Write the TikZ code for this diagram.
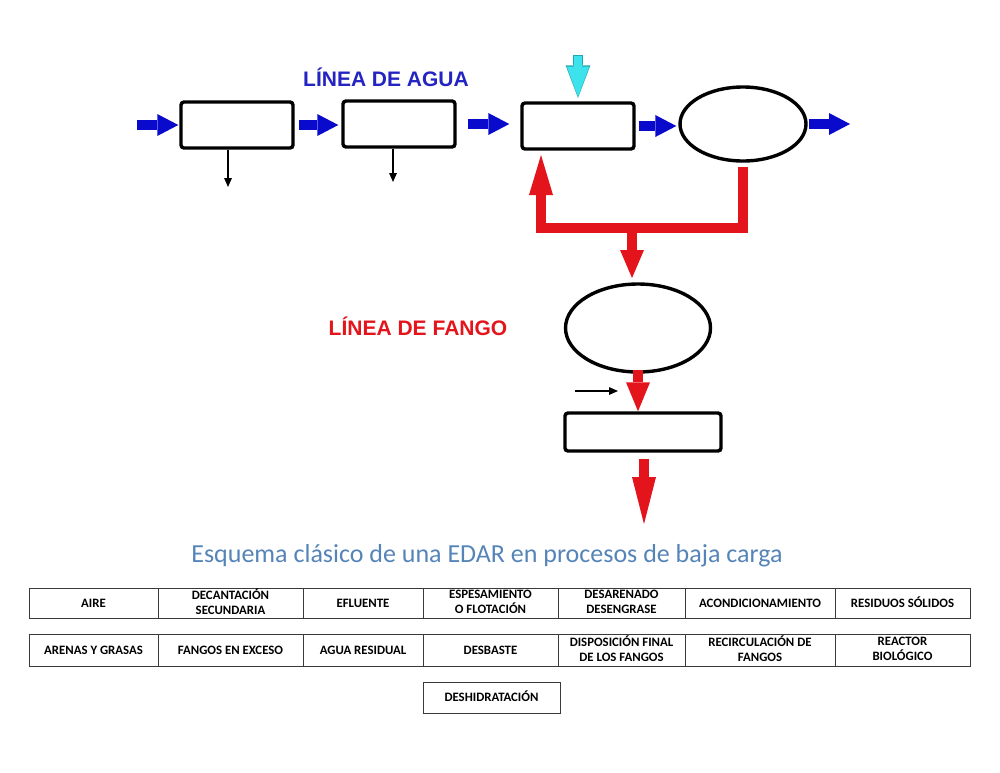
\documentclass[tikz,border=0pt]{standalone}
\usepackage{fontspec}
\setmainfont{Carlito}
\newfontfamily\headfont{Liberation Sans}
\usetikzlibrary{arrows.meta,shapes.geometric}
\definecolor{arrblue}{HTML}{0A0ACD}
\definecolor{headblue}{HTML}{2424C2}
\definecolor{fred}{HTML}{E3141B}
\definecolor{acyan}{HTML}{3DE3EC}
\definecolor{cyanedge}{HTML}{1FA8B0}
\definecolor{titleblue}{HTML}{5584B8}
\definecolor{gridgray}{HTML}{3A3A3A}
\begin{document}
\begin{tikzpicture}[x=0.5pt,y=-0.5pt,
  stagebox/.style={draw, line width=1.7pt, rounded corners=1.5pt, inner sep=0pt, fill=white},
  stageoval/.style={draw, ellipse, line width=1.7pt, inner sep=0pt, fill=white},
  bluearr/.style={draw=arrblue, line width=4.6pt, -{Triangle[length=10.5pt,width=11pt,line width=0pt]}},
  redarr/.style={draw=fred, line width=5pt, -{Triangle[length=#1,width=12pt,line width=0pt]}},
  cyanedgearr/.style={draw=cyanedge, line width=4.6pt, -{Triangle[length=16.3pt,width=12.4pt,line width=0pt]}},
  cyanarr/.style={draw=acyan, line width=3.8pt, -{Triangle[length=15pt,width=11.2pt,line width=0pt]}},
  thinarr/.style={draw=black, line width=0.6pt, -{Triangle[length=4.5pt,width=3.8pt]}},
  heading/.style={font=\headfont\bfseries\fontsize{10.5}{12}\selectfont, inner sep=0pt, anchor=base},
  cell/.style={draw=gridgray, line width=0.5pt, inner sep=0pt, align=center,
    font=\bfseries\fontsize{6.4}{7.6}\selectfont,
    execute at begin node={\rule{0pt}{0.86em}}, execute at end node={\rule[-0.2em]{0pt}{0.1em}}},
]
\useasboundingbox (0,0) rectangle (1000,772);

% ---- water line ----
\node[heading, text=headblue] (hagua) at (386,86) {LÍNEA DE AGUA};

\node[stagebox, minimum width=56pt, minimum height=23pt] (b1) at (237,125) {};
\node[stagebox, minimum width=56pt, minimum height=23pt] (b2) at (399,124) {};
\node[stagebox, minimum width=56pt, minimum height=23pt] (b3) at (578,126) {};
\node[stageoval, minimum width=63pt, minimum height=37pt] (e1) at (743,124) {};

\coordinate (win) at (137,125);
\coordinate (wout) at (850,124);
\coordinate (cyanin) at (578,55);

\draw[bluearr, shorten >=0.5pt] (win) -- (b1.west);
\draw[bluearr, shorten <=2pt, shorten >=1.5pt] (b1.east) -- (b2.west |- b1.east);
\draw[bluearr, shorten <=5.5pt, shorten >=5.5pt] (b2.east) -- (b3.west |- b2.east);
\draw[bluearr, shorten <=1.5pt, shorten >=1pt] (b3.east) -- (e1.west |- b3.east);
\draw[bluearr, shorten <=0.5pt] (e1.east) -- (wout);

\draw[cyanedgearr, shorten >=1.7pt] (cyanin) -- (b3.north);
\draw[cyanarr, shorten >=2.3pt, shorten <=0.3pt] (cyanin) -- (b3.north);

\coordinate (s1) at (228,187);
\coordinate (s2) at (393,182);
\draw[thinarr] (b1.south -| s1) -- (s1);
\draw[thinarr] (b2.south -| s2) -- (s2);

% ---- recirculation ----
\coordinate (rcA) at (743,167);
\coordinate (rcL) at (541,228);
\coordinate (rcTip) at (541,155);
\draw[redarr=20pt, line join=miter] (rcA) |- (rcL) -- (rcTip);

% ---- sludge line ----
\node[heading, text=fred] (hfango) at (418,335) {LÍNEA DE FANGO};
\node[stageoval, minimum width=72.5pt, minimum height=44pt] (e2) at (638,328) {};
\node[stagebox, minimum width=78pt, minimum height=19pt] (b4) at (643,432) {};

\coordinate (fdA) at (632,226);
\coordinate (fdB) at (632,278);
\draw[redarr=14pt] (fdA) -- (fdB);

\draw[redarr=14.5pt] (638,370) -- (b4.north -| 638,0);

\coordinate (aux) at (575,391);
\draw[thinarr] (aux) -- (618,391);

\coordinate (fout) at (644,524);
\draw[redarr=23.5pt] (b4.south -| fout) ++(0,6) -- (fout);

% ---- title ----
\node[font=\fontsize{13}{15}\selectfont, text=titleblue, anchor=base, inner sep=0pt] (title) at (487,562) {Esquema clásico de una EDAR en procesos de baja carga};

% ---- table ----
\node[cell, minimum width=64.5pt, minimum height=15pt] (c11) at (93.5,603) {AIRE};
\node[cell, minimum width=72.5pt, minimum height=15pt] (c12) at (230.5,603) {DECANTACIÓN\\SECUNDARIA};
\node[cell, minimum width=60pt, minimum height=15pt] (c13) at (363,603) {EFLUENTE};
\node[cell, minimum width=67.5pt, minimum height=15pt] (c14) at (490.5,603) {ESPESAMIENTO\\O FLOTACIÓN};
\node[cell, minimum width=63.5pt, minimum height=15pt] (c15) at (621.5,603) {DESARENADO\\DESENGRASE};
\node[cell, minimum width=75pt, minimum height=15pt] (c16) at (760,603) {ACONDICIONAMIENTO};
\node[cell, minimum width=67.5pt, minimum height=15pt] (c17) at (902.5,603) {RESIDUOS SÓLIDOS};

\node[cell, minimum width=64.5pt, minimum height=16pt] (c21) at (93.5,650) {ARENAS Y GRASAS};
\node[cell, minimum width=72.5pt, minimum height=16pt] (c22) at (230.5,650) {FANGOS EN EXCESO};
\node[cell, minimum width=60pt, minimum height=16pt] (c23) at (363,650) {AGUA RESIDUAL};
\node[cell, minimum width=67.5pt, minimum height=16pt] (c24) at (490.5,650) {DESBASTE};
\node[cell, minimum width=63.5pt, minimum height=16pt] (c25) at (621.5,650) {DISPOSICIÓN FINAL\\DE LOS FANGOS};
\node[cell, minimum width=75pt, minimum height=16pt] (c26) at (760,650) {RECIRCULACIÓN DE\\FANGOS};
\node[cell, minimum width=67.5pt, minimum height=16pt] (c27) at (902.5,650) {REACTOR\\BIOLÓGICO};

\node[cell, minimum width=68.5pt, minimum height=15.5pt] (c31) at (491.5,697.5) {DESHIDRATACIÓN};
\end{tikzpicture}
\end{document}
